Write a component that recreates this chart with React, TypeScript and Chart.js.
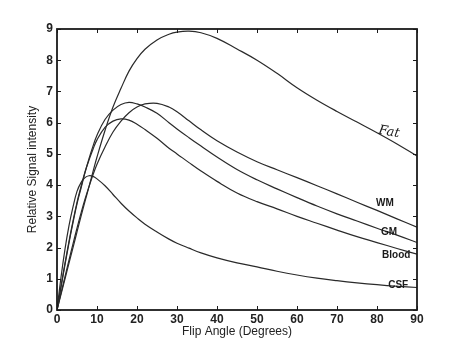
import React, { useEffect, useRef } from "react";
import { Chart, registerables } from "chart.js";

Chart.register(...registerables);

const angles = [0, 1, 2, 3, 4, 5, 6, 7, 8, 9, 10, 12, 14, 16, 18, 20, 22, 25, 28, 30, 33, 36, 40, 45, 50, 55, 60, 65, 70, 75, 80, 85, 90];

const fat = [0, 0.5, 1.0, 1.5, 2.0, 2.5, 3.0, 3.48, 3.95, 4.43, 4.9, 5.75, 6.5, 7.1, 7.65, 8.05, 8.35, 8.65, 8.83, 8.9, 8.93, 8.88, 8.7, 8.36, 8.0, 7.58, 7.12, 6.72, 6.36, 6.02, 5.68, 5.32, 4.93];
const wm = [0, 0.54, 1.07, 1.6, 2.12, 2.62, 3.1, 3.55, 3.95, 4.33, 4.67, 5.22, 5.7, 6.05, 6.32, 6.5, 6.6, 6.62, 6.5, 6.35, 6.06, 5.77, 5.42, 5.06, 4.75, 4.49, 4.24, 3.98, 3.72, 3.45, 3.19, 2.92, 2.65];
const gm = [0, 0.73, 1.45, 2.15, 2.8, 3.4, 3.9, 4.4, 4.85, 5.25, 5.6, 6.1, 6.4, 6.58, 6.65, 6.6, 6.5, 6.3, 6.0, 5.8, 5.52, 5.25, 4.9, 4.5, 4.17, 3.88, 3.6, 3.33, 3.08, 2.85, 2.62, 2.4, 2.16];
const blood = [0, 0.76, 1.5, 2.2, 2.85, 3.45, 3.95, 4.42, 4.8, 5.15, 5.45, 5.85, 6.05, 6.12, 6.08, 5.95, 5.78, 5.5, 5.18, 5.0, 4.72, 4.45, 4.12, 3.75, 3.47, 3.24, 3.0, 2.78, 2.56, 2.35, 2.16, 1.97, 1.79];
const csf = [0, 1.05, 1.95, 2.7, 3.3, 3.8, 4.08, 4.24, 4.3, 4.28, 4.2, 3.98, 3.7, 3.42, 3.17, 2.95, 2.75, 2.5, 2.27, 2.14, 1.98, 1.83, 1.67, 1.51, 1.38, 1.24, 1.12, 1.02, 0.94, 0.87, 0.81, 0.76, 0.72];

const seriesNames = ["Fat", "WM", "GM", "Blood", "CSF"];
const seriesValues = [fat, wm, gm, blood, csf];

// curve labels: [text, angle, value]
const labelText = ["Fat", "WM", "GM", "Blood", "CSF"];
const labelAngle = [83, 82, 83, 84.8, 85.3];
const labelValue = [5.7, 3.41, 2.5, 1.76, 0.8];

const yTitle = "Relative Signal intensity";
const xTitle = "Flip Angle (Degrees)";

const framePlugin = {
  id: "frame",
  afterDatasetsDraw(chart: any) {
    const { ctx, chartArea, scales } = chart;
    const x = scales.x;
    const y = scales.y;
    ctx.save();
    ctx.strokeStyle = "#1a1a1a";
    ctx.lineWidth = 1.8;
    ctx.strokeRect(chartArea.left, chartArea.top, chartArea.right - chartArea.left, chartArea.bottom - chartArea.top);
    ctx.lineWidth = 1;
    const tl = 4;
    for (let v = 0; v <= 90; v += 10) {
      const px = Math.round(x.getPixelForValue(v)) + 0.5;
      ctx.beginPath();
      ctx.moveTo(px, chartArea.bottom);
      ctx.lineTo(px, chartArea.bottom - tl);
      ctx.moveTo(px, chartArea.top);
      ctx.lineTo(px, chartArea.top + tl);
      ctx.stroke();
    }
    for (let v = 0; v <= 9; v += 1) {
      const py = Math.round(y.getPixelForValue(v)) + 0.5;
      ctx.beginPath();
      ctx.moveTo(chartArea.left, py);
      ctx.lineTo(chartArea.left + tl, py);
      ctx.moveTo(chartArea.right, py);
      ctx.lineTo(chartArea.right - tl, py);
      ctx.stroke();
    }
    // curve labels
    ctx.fillStyle = "#1a1a1a";
    ctx.textAlign = "center";
    ctx.textBaseline = "middle";
    for (let i = 0; i < labelText.length; i++) {
      const px = x.getPixelForValue(labelAngle[i]);
      const py = y.getPixelForValue(labelValue[i]);
      if (labelText[i] === "Fat") {
        ctx.save();
        ctx.translate(px, py);
        ctx.rotate(0.18);
        ctx.font = "italic 13px 'DejaVu Serif'";
        ctx.fillText(labelText[i], 0, 0);
        ctx.restore();
      } else {
        ctx.font = "bold 10px 'Liberation Sans'";
        ctx.fillText(labelText[i], px, py);
      }
    }
    // axis titles
    ctx.font = "12px 'Liberation Sans'";
    ctx.fillStyle = "#222";
    ctx.fillText(xTitle, (chartArea.left + chartArea.right) / 2, 332);
    ctx.save();
    ctx.translate(33, (chartArea.top + chartArea.bottom) / 2);
    ctx.rotate(-Math.PI / 2);
    ctx.fillText(yTitle, 0, 0);
    ctx.restore();
    ctx.restore();
  },
};

export default function App() {
  const ref = useRef<HTMLCanvasElement | null>(null);
  useEffect(() => {
    if (!ref.current) return;
    const datasets = seriesNames.map((name, i) => ({
      label: name,
      data: angles.map((a, j) => ({ x: a, y: seriesValues[i][j] })),
      borderColor: "#2a2a2a",
      borderWidth: 1.2,
      pointRadius: 0,
      fill: false,
      tension: 0.4,
    }));
    const chart = new Chart(ref.current, {
      type: "line",
      data: { datasets },
      plugins: [framePlugin],
      options: {
        animation: false,
        responsive: false,
        layout: { padding: { left: 0, right: 57, top: 29, bottom: 0 } },
        plugins: { legend: { display: false }, tooltip: { enabled: false } },
        scales: {
          x: {
            type: "linear",
            min: 0,
            max: 90,
            ticks: { stepSize: 10, padding: 2, color: "#222", font: { family: "'Liberation Sans'", size: 12, weight: "bold" } },
            grid: { display: false, drawTicks: false },
            border: { display: false },
            afterFit: (s: any) => { s.height = 36; },
          },
          y: {
            min: 0,
            max: 9,
            ticks: { stepSize: 1, padding: 4, color: "#222", font: { family: "'Liberation Sans'", size: 12, weight: "bold" } },
            grid: { display: false, drawTicks: false },
            border: { display: false },
            afterFit: (s: any) => { s.width = 57; },
          },
        },
      },
    });
    return () => chart.destroy();
  }, []);
  return (
    <div style={{ position: "fixed", left: 0, top: 0, width: 474, height: 346, background: "#fff" }}>
      <canvas ref={ref} width={474} height={346} />
    </div>
  );
}
